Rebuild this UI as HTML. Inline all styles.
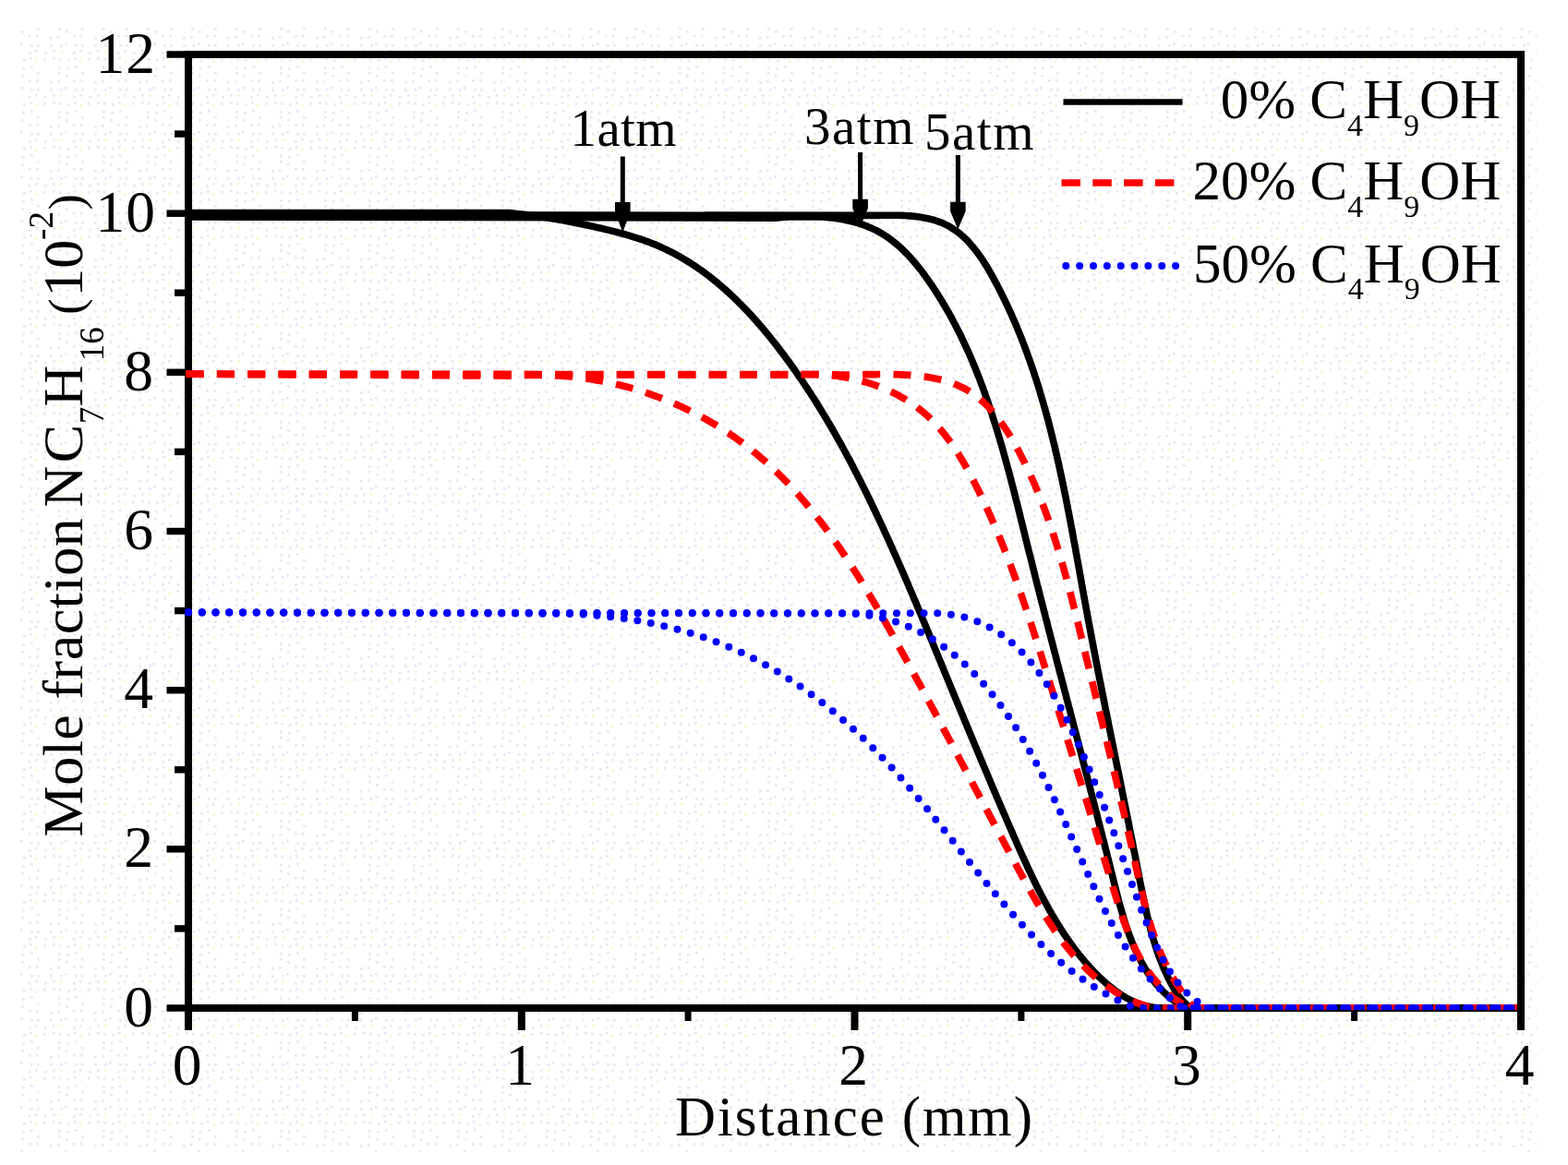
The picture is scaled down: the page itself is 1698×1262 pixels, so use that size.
<!DOCTYPE html>
<html><head><meta charset="utf-8"><title>Mole fraction NC7H16 vs Distance</title>
<style>html,body{margin:0;padding:0;background:#fff;}svg{display:block;}</style>
</head><body>
<svg width="1698" height="1262" viewBox="0 0 1698 1262"><rect x="0" y="0" width="1698" height="1262" fill="#ffffff"/>
<defs><pattern id="dots" x="22" y="30" width="48" height="48" patternUnits="userSpaceOnUse"><rect x="1" y="3" width="2.7" height="2.7" fill="#e8e8f3"/><rect x="18" y="0" width="2.7" height="2.7" fill="#e8e8f3"/><rect x="41" y="0" width="2.7" height="2.7" fill="#e8e8f3"/><rect x="9" y="8" width="2.7" height="2.7" fill="#e8e8f3"/><rect x="17" y="8" width="2.7" height="2.7" fill="#e8e8f3"/><rect x="32" y="10" width="2.7" height="2.7" fill="#e8e8f3"/><rect x="40" y="9" width="2.7" height="2.7" fill="#e8e8f3"/><rect x="0" y="16" width="2.7" height="2.7" fill="#e8e8f3"/><rect x="11" y="18" width="2.7" height="2.7" fill="#e8e8f3"/><rect x="18" y="18" width="2.7" height="2.7" fill="#e8e8f3"/><rect x="32" y="18" width="2.7" height="2.7" fill="#e8e8f3"/><rect x="43" y="18" width="2.7" height="2.7" fill="#e8e8f3"/><rect x="9" y="26" width="2.7" height="2.7" fill="#e8e8f3"/><rect x="16" y="24" width="2.7" height="2.7" fill="#e8e8f3"/><rect x="26" y="26" width="2.7" height="2.7" fill="#e8e8f3"/><rect x="35" y="24" width="2.7" height="2.7" fill="#e8e8f3"/><rect x="43" y="24" width="2.7" height="2.7" fill="#f1fbd8"/><rect x="3" y="34" width="2.7" height="2.7" fill="#e8e8f3"/><rect x="10" y="32" width="2.7" height="2.7" fill="#e8e8f3"/><rect x="16" y="35" width="2.7" height="2.7" fill="#f1fbd8"/><rect x="25" y="33" width="2.7" height="2.7" fill="#e8e8f3"/><rect x="35" y="32" width="2.7" height="2.7" fill="#e8e8f3"/><rect x="42" y="33" width="2.7" height="2.7" fill="#e8e8f3"/><rect x="2" y="43" width="2.7" height="2.7" fill="#e8e8f3"/><rect x="11" y="41" width="2.7" height="2.7" fill="#e8e8f3"/><rect x="41" y="42" width="2.7" height="2.7" fill="#e8e8f3"/></pattern></defs>
<rect x="22" y="30" width="1642" height="1218" fill="url(#dots)"/>
<rect x="204" y="59" width="1443" height="1033" fill="none" stroke="#000" stroke-width="8"/>
<line x1="180.5" y1="1092.0" x2="204" y2="1092.0" stroke="#000" stroke-width="7.5"/>
<line x1="189" y1="1005.9" x2="204" y2="1005.9" stroke="#000" stroke-width="7.5"/>
<line x1="180.5" y1="919.8" x2="204" y2="919.8" stroke="#000" stroke-width="7.5"/>
<line x1="189" y1="833.8" x2="204" y2="833.8" stroke="#000" stroke-width="7.5"/>
<line x1="180.5" y1="747.7" x2="204" y2="747.7" stroke="#000" stroke-width="7.5"/>
<line x1="189" y1="661.6" x2="204" y2="661.6" stroke="#000" stroke-width="7.5"/>
<line x1="180.5" y1="575.5" x2="204" y2="575.5" stroke="#000" stroke-width="7.5"/>
<line x1="189" y1="489.4" x2="204" y2="489.4" stroke="#000" stroke-width="7.5"/>
<line x1="180.5" y1="403.3" x2="204" y2="403.3" stroke="#000" stroke-width="7.5"/>
<line x1="189" y1="317.2" x2="204" y2="317.2" stroke="#000" stroke-width="7.5"/>
<line x1="180.5" y1="231.2" x2="204" y2="231.2" stroke="#000" stroke-width="7.5"/>
<line x1="189" y1="145.1" x2="204" y2="145.1" stroke="#000" stroke-width="7.5"/>
<line x1="180.5" y1="59.0" x2="204" y2="59.0" stroke="#000" stroke-width="7.5"/>
<line x1="204.0" y1="1092" x2="204.0" y2="1116" stroke="#000" stroke-width="8"/>
<line x1="384.4" y1="1092" x2="384.4" y2="1106" stroke="#000" stroke-width="7"/>
<line x1="564.8" y1="1092" x2="564.8" y2="1116" stroke="#000" stroke-width="8"/>
<line x1="745.1" y1="1092" x2="745.1" y2="1106" stroke="#000" stroke-width="7"/>
<line x1="925.5" y1="1092" x2="925.5" y2="1116" stroke="#000" stroke-width="8"/>
<line x1="1105.9" y1="1092" x2="1105.9" y2="1106" stroke="#000" stroke-width="7"/>
<line x1="1286.2" y1="1092" x2="1286.2" y2="1116" stroke="#000" stroke-width="8"/>
<line x1="1466.6" y1="1092" x2="1466.6" y2="1106" stroke="#000" stroke-width="7"/>
<line x1="1647.0" y1="1092" x2="1647.0" y2="1116" stroke="#000" stroke-width="8"/>
<clipPath id="pc"><rect x="200" y="40" width="1443" height="1054"/></clipPath><g clip-path="url(#pc)">
<path d="M204.0 230.5 L540.4 230.5 L542.8 230.5 L545.3 230.5 L547.7 230.5 L550.1 230.5 L552.5 230.7 L554.9 230.9 L557.3 231.2 L559.8 231.5 L562.2 231.7 L564.6 232.0 L567.1 232.3 L569.5 232.6 L571.9 232.9 L574.4 233.2 L576.8 233.6 L579.3 233.9 L581.7 234.2 L584.2 234.6 L586.6 235.0 L589.1 235.3 L591.5 235.7 L594.0 236.1 L596.4 236.5 L598.9 236.9 L601.3 237.3 L603.8 237.8 L606.3 238.2 L608.7 238.6 L611.2 239.1 L613.7 239.5 L616.1 240.0 L618.6 240.5 L621.1 241.0 L623.5 241.4 L626.0 241.9 L628.5 242.4 L630.9 243.0 L633.4 243.5 L635.9 244.0 L638.3 244.5 L640.8 245.1 L643.3 245.6 L645.8 246.2 L648.2 246.7 L650.7 247.3 L653.2 247.9 L655.6 248.5 L658.1 249.0 L660.6 249.6 L663.0 250.3 L665.5 250.9 L668.0 251.5 L670.4 252.2 L672.9 252.8 L675.3 253.5 L677.7 254.2 L680.2 254.9 L682.6 255.6 L685.0 256.3 L687.4 257.1 L689.8 257.8 L692.2 258.6 L694.6 259.4 L696.9 260.2 L699.3 261.1 L701.6 261.9 L704.0 262.8 L706.3 263.7 L708.6 264.6 L710.9 265.6 L713.2 266.6 L715.5 267.6 L717.7 268.6 L719.9 269.6 L722.2 270.7 L724.4 271.8 L726.6 272.9 L728.8 274.0 L731.0 275.2 L733.1 276.3 L735.3 277.5 L737.4 278.8 L739.5 280.0 L741.6 281.2 L743.7 282.5 L745.8 283.8 L747.9 285.1 L749.9 286.5 L752.0 287.8 L754.0 289.2 L756.1 290.6 L758.1 292.0 L760.1 293.4 L762.1 294.8 L764.0 296.3 L766.0 297.8 L768.0 299.3 L769.9 300.8 L771.8 302.3 L773.7 303.9 L775.7 305.4 L777.6 307.0 L779.4 308.6 L781.3 310.2 L783.2 311.8 L785.0 313.4 L786.9 315.1 L788.7 316.7 L790.5 318.4 L792.3 320.1 L794.1 321.8 L795.9 323.5 L797.7 325.3 L799.5 327.0 L801.2 328.8 L803.0 330.5 L804.7 332.3 L806.5 334.1 L808.2 335.9 L809.9 337.7 L811.6 339.5 L813.3 341.4 L815.0 343.2 L816.6 345.1 L818.3 346.9 L820.0 348.8 L821.6 350.7 L823.2 352.6 L824.9 354.5 L826.5 356.4 L828.1 358.3 L829.7 360.2 L831.3 362.2 L832.9 364.1 L834.4 366.0 L836.0 368.0 L837.6 370.0 L839.1 371.9 L840.7 373.9 L842.2 375.9 L843.7 377.9 L845.2 379.9 L846.8 381.9 L848.3 383.9 L849.8 385.9 L851.2 387.9 L852.7 389.9 L854.2 391.9 L855.7 393.9 L857.1 396.0 L858.6 398.0 L860.0 400.0 L861.5 402.1 L862.9 404.1 L864.3 406.2 L865.7 408.2 L867.1 410.3 L868.6 412.4 L869.9 414.4 L871.3 416.5 L872.7 418.6 L874.1 420.7 L875.5 422.8 L876.8 424.8 L878.2 426.9 L879.5 429.0 L880.9 431.1 L882.2 433.2 L883.6 435.3 L884.9 437.5 L886.2 439.6 L887.5 441.7 L888.8 443.8 L890.1 445.9 L891.4 448.1 L892.7 450.2 L894.0 452.3 L895.3 454.5 L896.5 456.6 L897.8 458.8 L899.1 460.9 L900.3 463.1 L901.6 465.2 L902.8 467.4 L904.1 469.5 L905.3 471.7 L906.5 473.9 L907.7 476.1 L909.0 478.2 L910.2 480.4 L911.4 482.6 L912.6 484.8 L913.8 487.0 L915.0 489.2 L916.2 491.3 L917.3 493.5 L918.5 495.7 L919.7 497.9 L920.9 500.1 L922.0 502.3 L923.2 504.6 L924.3 506.8 L925.5 509.0 L926.6 511.2 L927.8 513.4 L928.9 515.6 L930.1 517.9 L931.2 520.1 L932.3 522.3 L933.4 524.6 L934.5 526.8 L935.7 529.0 L936.8 531.3 L937.9 533.5 L939.0 535.7 L940.1 538.0 L941.2 540.2 L942.3 542.5 L943.4 544.7 L944.4 547.0 L945.5 549.2 L946.6 551.5 L947.7 553.7 L948.7 556.0 L949.8 558.3 L950.9 560.5 L951.9 562.8 L953.0 565.1 L954.0 567.3 L955.1 569.6 L956.2 571.9 L957.2 574.1 L958.2 576.4 L959.3 578.7 L960.3 581.0 L961.4 583.2 L962.4 585.5 L963.4 587.8 L964.4 590.1 L965.5 592.4 L966.5 594.6 L967.5 596.9 L968.5 599.2 L969.6 601.5 L970.6 603.8 L971.6 606.1 L972.6 608.4 L973.6 610.7 L974.6 612.9 L975.6 615.2 L976.6 617.5 L977.6 619.8 L978.6 622.1 L979.6 624.4 L980.6 626.7 L981.6 629.0 L982.6 631.3 L983.6 633.6 L984.5 635.9 L985.5 638.2 L986.5 640.5 L987.5 642.8 L988.5 645.1 L989.4 647.4 L990.4 649.7 L991.4 652.0 L992.4 654.3 L993.3 656.6 L994.3 658.9 L995.3 661.2 L996.2 663.5 L997.2 665.8 L998.2 668.1 L999.1 670.4 L1000.1 672.7 L1001.1 675.0 L1002.0 677.3 L1003.0 679.6 L1003.9 681.9 L1004.9 684.2 L1005.9 686.5 L1006.8 688.8 L1007.8 691.2 L1008.7 693.5 L1009.7 695.8 L1010.6 698.1 L1011.6 700.4 L1012.5 702.7 L1013.5 705.0 L1014.4 707.3 L1015.4 709.6 L1016.3 711.9 L1017.3 714.2 L1018.2 716.4 L1019.2 718.7 L1020.1 721.0 L1021.1 723.3 L1022.0 725.6 L1022.9 727.9 L1023.9 730.2 L1024.8 732.5 L1025.8 734.8 L1026.7 737.1 L1027.7 739.4 L1028.6 741.7 L1029.6 744.0 L1030.5 746.2 L1031.5 748.5 L1032.4 750.8 L1033.3 753.1 L1034.3 755.4 L1035.2 757.7 L1036.2 760.0 L1037.1 762.2 L1038.1 764.5 L1039.0 766.8 L1040.0 769.1 L1040.9 771.4 L1041.9 773.7 L1042.8 775.9 L1043.7 778.2 L1044.7 780.5 L1045.6 782.8 L1046.6 785.1 L1047.5 787.4 L1048.5 789.6 L1049.4 791.9 L1050.4 794.2 L1051.3 796.5 L1052.3 798.8 L1053.2 801.0 L1054.2 803.3 L1055.1 805.6 L1056.1 807.9 L1057.1 810.2 L1058.0 812.5 L1059.0 814.7 L1059.9 817.0 L1060.9 819.3 L1061.8 821.6 L1062.8 823.9 L1063.8 826.2 L1064.7 828.5 L1065.7 830.7 L1066.7 833.0 L1067.6 835.3 L1068.6 837.6 L1069.6 839.9 L1070.5 842.2 L1071.5 844.5 L1072.5 846.8 L1073.4 849.1 L1074.4 851.4 L1075.4 853.7 L1076.4 856.0 L1077.3 858.3 L1078.3 860.6 L1079.3 862.9 L1080.3 865.2 L1081.3 867.5 L1082.3 869.8 L1083.2 872.1 L1084.2 874.4 L1085.2 876.7 L1086.2 879.0 L1087.2 881.3 L1088.2 883.6 L1089.2 885.9 L1090.2 888.2 L1091.2 890.5 L1092.2 892.9 L1093.2 895.2 L1094.2 897.5 L1095.2 899.8 L1096.2 902.1 L1097.2 904.5 L1098.3 906.8 L1099.3 909.1 L1100.3 911.4 L1101.3 913.8 L1102.3 916.1 L1103.4 918.4 L1104.4 920.7 L1105.4 923.1 L1106.5 925.4 L1107.5 927.7 L1108.6 930.0 L1109.6 932.3 L1110.7 934.7 L1111.8 937.0 L1112.8 939.3 L1113.9 941.6 L1115.0 943.9 L1116.1 946.2 L1117.2 948.5 L1118.3 950.8 L1119.4 953.1 L1120.5 955.3 L1121.6 957.6 L1122.7 959.9 L1123.9 962.2 L1125.0 964.4 L1126.2 966.7 L1127.3 968.9 L1128.5 971.2 L1129.7 973.4 L1130.9 975.6 L1132.1 977.8 L1133.3 980.1 L1134.5 982.3 L1135.7 984.5 L1136.9 986.7 L1138.2 988.8 L1139.4 991.0 L1140.7 993.2 L1142.0 995.3 L1143.3 997.5 L1144.6 999.6 L1145.9 1001.7 L1147.2 1003.8 L1148.5 1005.9 L1149.9 1008.0 L1151.2 1010.1 L1152.6 1012.2 L1154.0 1014.2 L1155.4 1016.3 L1156.8 1018.3 L1158.2 1020.3 L1159.6 1022.3 L1161.1 1024.3 L1162.5 1026.3 L1164.0 1028.3 L1165.5 1030.2 L1167.0 1032.2 L1168.5 1034.1 L1170.1 1036.0 L1171.6 1037.9 L1173.2 1039.8 L1174.8 1041.7 L1176.4 1043.5 L1178.0 1045.3 L1179.6 1047.2 L1181.3 1049.0 L1182.9 1050.7 L1184.6 1052.5 L1186.3 1054.3 L1188.0 1056.0 L1189.7 1057.7 L1191.5 1059.4 L1193.3 1061.0 L1195.1 1062.7 L1196.9 1064.3 L1198.7 1065.9 L1200.6 1067.4 L1202.5 1068.9 L1204.4 1070.4 L1206.3 1072.0 L1208.3 1073.5 L1210.3 1074.9 L1212.3 1076.3 L1214.3 1077.7 L1216.4 1079.0 L1218.5 1080.3 L1220.6 1081.5 L1222.8 1082.7 L1225.0 1083.8 L1227.2 1084.8 L1229.5 1085.8 L1231.8 1086.7 L1234.1 1087.6 L1236.5 1088.4 L1238.9 1089.1 L1241.4 1089.8 L1243.8 1090.3 L1246.4 1090.8 L1248.9 1091.3 L1251.5 1091.6 L1254.2 1091.9 L1256.9 1092.0 L1259.6 1092.0 L1262.4 1092.0 L1265.2 1092.0 L1647.0 1092.0" fill="none" stroke="#000" stroke-width="7.6" stroke-linejoin="round" stroke-linecap="butt"/>
<path d="M204.0 235.0 L839.6 236.1 L842.1 235.9 L844.5 235.6 L847.0 235.4 L849.5 235.3 L852.1 235.1 L854.6 235.0 L857.1 235.0 L859.7 235.0 L862.2 235.0 L864.8 235.0 L867.4 235.0 L869.9 235.0 L872.5 235.0 L875.1 235.0 L877.7 235.0 L880.2 235.0 L882.8 235.0 L885.4 235.0 L888.0 235.0 L890.5 235.0 L893.1 235.2 L895.7 235.4 L898.2 235.7 L900.8 236.0 L903.3 236.3 L905.8 236.6 L908.4 237.0 L910.9 237.4 L913.3 237.9 L915.8 238.4 L918.3 238.9 L920.7 239.5 L923.2 240.1 L925.6 240.7 L928.0 241.4 L930.3 242.1 L932.7 242.9 L935.0 243.7 L937.3 244.5 L939.6 245.4 L941.9 246.4 L944.1 247.3 L946.3 248.4 L948.5 249.4 L950.7 250.6 L952.8 251.7 L954.9 253.0 L956.9 254.2 L959.0 255.5 L961.0 256.9 L962.9 258.3 L964.9 259.7 L966.8 261.2 L968.7 262.7 L970.6 264.2 L972.4 265.8 L974.3 267.4 L976.1 269.1 L977.8 270.8 L979.6 272.5 L981.3 274.2 L983.0 276.0 L984.7 277.8 L986.4 279.6 L988.0 281.5 L989.6 283.4 L991.3 285.3 L992.8 287.2 L994.4 289.1 L996.0 291.1 L997.5 293.0 L999.0 295.0 L1000.5 297.0 L1002.0 299.1 L1003.4 301.1 L1004.9 303.1 L1006.3 305.2 L1007.7 307.3 L1009.2 309.3 L1010.5 311.4 L1011.9 313.5 L1013.3 315.6 L1014.6 317.7 L1016.0 319.8 L1017.3 321.9 L1018.6 324.0 L1019.9 326.1 L1021.2 328.3 L1022.5 330.4 L1023.7 332.6 L1025.0 334.7 L1026.2 336.9 L1027.5 339.0 L1028.7 341.2 L1029.9 343.4 L1031.1 345.6 L1032.2 347.8 L1033.4 350.0 L1034.6 352.2 L1035.7 354.4 L1036.8 356.6 L1038.0 358.8 L1039.1 361.0 L1040.2 363.2 L1041.3 365.5 L1042.3 367.7 L1043.4 370.0 L1044.5 372.2 L1045.5 374.5 L1046.5 376.7 L1047.6 379.0 L1048.6 381.3 L1049.6 383.5 L1050.6 385.8 L1051.6 388.1 L1052.6 390.4 L1053.5 392.7 L1054.5 395.0 L1055.4 397.3 L1056.4 399.6 L1057.3 401.9 L1058.2 404.2 L1059.1 406.5 L1060.1 408.8 L1061.0 411.2 L1061.8 413.5 L1062.7 415.8 L1063.6 418.2 L1064.5 420.5 L1065.3 422.9 L1066.2 425.2 L1067.0 427.6 L1067.8 429.9 L1068.7 432.3 L1069.5 434.7 L1070.3 437.0 L1071.1 439.4 L1071.9 441.8 L1072.7 444.1 L1073.5 446.5 L1074.3 448.9 L1075.0 451.3 L1075.8 453.7 L1076.6 456.1 L1077.3 458.5 L1078.1 460.8 L1078.8 463.2 L1079.6 465.6 L1080.3 468.0 L1081.0 470.5 L1081.7 472.9 L1082.5 475.3 L1083.2 477.7 L1083.9 480.1 L1084.6 482.5 L1085.3 484.9 L1086.0 487.3 L1086.6 489.8 L1087.3 492.2 L1088.0 494.6 L1088.7 497.0 L1089.3 499.5 L1090.0 501.9 L1090.7 504.3 L1091.3 506.7 L1092.0 509.2 L1092.6 511.6 L1093.3 514.0 L1093.9 516.5 L1094.6 518.9 L1095.2 521.4 L1095.8 523.8 L1096.5 526.2 L1097.1 528.7 L1097.7 531.1 L1098.4 533.5 L1099.0 536.0 L1099.6 538.4 L1100.2 540.9 L1100.8 543.3 L1101.5 545.7 L1102.1 548.2 L1102.7 550.6 L1103.3 553.1 L1103.9 555.5 L1104.5 557.9 L1105.1 560.4 L1105.7 562.8 L1106.3 565.3 L1106.9 567.7 L1107.5 570.1 L1108.1 572.6 L1108.7 575.0 L1109.3 577.4 L1109.9 579.9 L1110.5 582.3 L1111.1 584.8 L1111.7 587.2 L1112.3 589.6 L1112.9 592.0 L1113.5 594.5 L1114.1 596.9 L1114.7 599.3 L1115.4 601.7 L1116.0 604.2 L1116.6 606.6 L1117.2 609.0 L1117.8 611.4 L1118.4 613.9 L1119.0 616.3 L1119.6 618.7 L1120.2 621.1 L1120.8 623.5 L1121.4 625.9 L1122.0 628.3 L1122.6 630.8 L1123.2 633.2 L1123.9 635.6 L1124.5 638.0 L1125.1 640.4 L1125.7 642.8 L1126.3 645.2 L1126.9 647.6 L1127.5 650.0 L1128.1 652.4 L1128.8 654.8 L1129.4 657.2 L1130.0 659.6 L1130.6 662.0 L1131.2 664.4 L1131.8 666.8 L1132.4 669.2 L1133.1 671.6 L1133.7 674.0 L1134.3 676.4 L1134.9 678.8 L1135.5 681.2 L1136.1 683.6 L1136.8 686.0 L1137.4 688.4 L1138.0 690.8 L1138.6 693.2 L1139.2 695.6 L1139.9 698.0 L1140.5 700.4 L1141.1 702.8 L1141.7 705.2 L1142.3 707.5 L1143.0 709.9 L1143.6 712.3 L1144.2 714.7 L1144.8 717.1 L1145.4 719.5 L1146.1 721.9 L1146.7 724.3 L1147.3 726.7 L1147.9 729.1 L1148.6 731.5 L1149.2 733.9 L1149.8 736.2 L1150.4 738.6 L1151.1 741.0 L1151.7 743.4 L1152.3 745.8 L1152.9 748.2 L1153.6 750.6 L1154.2 753.0 L1154.8 755.4 L1155.4 757.8 L1156.1 760.2 L1156.7 762.6 L1157.3 765.0 L1157.9 767.4 L1158.6 769.7 L1159.2 772.1 L1159.8 774.5 L1160.4 776.9 L1161.1 779.3 L1161.7 781.7 L1162.3 784.1 L1162.9 786.5 L1163.6 788.9 L1164.2 791.3 L1164.8 793.7 L1165.4 796.1 L1166.1 798.5 L1166.7 800.9 L1167.3 803.3 L1168.0 805.7 L1168.6 808.1 L1169.2 810.5 L1169.8 812.9 L1170.5 815.3 L1171.1 817.7 L1171.7 820.1 L1172.3 822.5 L1173.0 825.0 L1173.6 827.4 L1174.2 829.8 L1174.8 832.2 L1175.5 834.6 L1176.1 837.0 L1176.7 839.4 L1177.4 841.8 L1178.0 844.3 L1178.6 846.7 L1179.2 849.1 L1179.9 851.5 L1180.5 853.9 L1181.1 856.4 L1181.7 858.8 L1182.4 861.2 L1183.0 863.6 L1183.6 866.0 L1184.2 868.5 L1184.9 870.9 L1185.5 873.3 L1186.1 875.8 L1186.7 878.2 L1187.4 880.6 L1188.0 883.1 L1188.6 885.5 L1189.2 887.9 L1189.9 890.4 L1190.5 892.8 L1191.1 895.3 L1191.7 897.7 L1192.4 900.2 L1193.0 902.6 L1193.6 905.1 L1194.2 907.5 L1194.9 910.0 L1195.5 912.4 L1196.1 914.9 L1196.7 917.3 L1197.3 919.8 L1198.0 922.2 L1198.6 924.7 L1199.2 927.2 L1199.8 929.6 L1200.5 932.1 L1201.1 934.6 L1201.7 937.0 L1202.3 939.5 L1202.9 942.0 L1203.6 944.5 L1204.2 947.0 L1204.8 949.4 L1205.4 951.9 L1206.0 954.4 L1206.6 956.9 L1207.3 959.4 L1207.9 961.9 L1208.5 964.3 L1209.2 966.8 L1209.8 969.3 L1210.4 971.8 L1211.1 974.3 L1211.7 976.7 L1212.4 979.2 L1213.1 981.7 L1213.8 984.1 L1214.5 986.6 L1215.2 989.0 L1215.9 991.4 L1216.6 993.9 L1217.3 996.3 L1218.1 998.7 L1218.8 1001.1 L1219.6 1003.5 L1220.4 1005.8 L1221.2 1008.2 L1222.1 1010.5 L1222.9 1012.9 L1223.8 1015.2 L1224.7 1017.5 L1225.6 1019.8 L1226.5 1022.1 L1227.4 1024.4 L1228.4 1026.6 L1229.4 1028.9 L1230.4 1031.1 L1231.4 1033.3 L1232.5 1035.4 L1233.6 1037.6 L1234.7 1039.7 L1235.8 1041.9 L1237.0 1044.0 L1238.2 1046.0 L1239.4 1048.1 L1240.6 1050.1 L1241.9 1052.1 L1243.2 1054.1 L1244.6 1056.1 L1246.0 1058.0 L1247.4 1059.9 L1248.8 1061.8 L1250.3 1063.7 L1251.8 1065.5 L1253.3 1067.3 L1254.9 1069.0 L1256.6 1070.8 L1258.2 1072.6 L1259.9 1074.4 L1261.7 1076.1 L1263.5 1077.7 L1265.3 1079.3 L1267.2 1080.9 L1269.2 1082.4 L1271.2 1083.8 L1273.2 1085.2 L1275.3 1086.5 L1277.4 1087.7 L1279.6 1088.9 L1281.9 1089.9 L1284.2 1090.9 L1286.6 1091.9 L1289.0 1092.0 L1291.5 1092.0 L1294.0 1092.0 L1296.7 1092.0 L1299.3 1092.0 L1647.0 1092.0" fill="none" stroke="#000" stroke-width="7.6" stroke-linejoin="round" stroke-linecap="butt"/>
<path d="M204.0 232.5 L949.5 233.4 L951.9 233.4 L954.2 233.3 L956.7 233.3 L959.1 233.2 L961.6 233.2 L964.1 233.2 L966.7 233.2 L969.3 233.2 L971.9 233.2 L974.5 233.3 L977.1 233.4 L979.8 233.5 L982.4 233.7 L985.1 233.9 L987.7 234.1 L990.4 234.4 L993.0 234.7 L995.6 235.0 L998.2 235.4 L1000.8 235.9 L1003.4 236.4 L1005.9 237.0 L1008.4 237.6 L1010.9 238.2 L1013.3 239.0 L1015.7 239.8 L1018.0 240.6 L1020.3 241.6 L1022.6 242.6 L1024.7 243.6 L1026.9 244.7 L1029.0 245.9 L1031.0 247.2 L1033.0 248.5 L1035.0 249.9 L1036.9 251.3 L1038.8 252.7 L1040.7 254.3 L1042.5 255.8 L1044.2 257.5 L1046.0 259.1 L1047.7 260.8 L1049.3 262.6 L1050.9 264.4 L1052.5 266.2 L1054.1 268.1 L1055.6 270.0 L1057.1 271.9 L1058.6 273.9 L1060.1 275.8 L1061.5 277.9 L1062.9 279.9 L1064.3 282.0 L1065.6 284.1 L1067.0 286.2 L1068.3 288.3 L1069.6 290.5 L1070.8 292.6 L1072.1 294.8 L1073.3 297.0 L1074.6 299.2 L1075.8 301.4 L1077.0 303.6 L1078.2 305.9 L1079.4 308.1 L1080.5 310.3 L1081.7 312.5 L1082.8 314.8 L1084.0 317.0 L1085.1 319.3 L1086.2 321.5 L1087.3 323.8 L1088.4 326.0 L1089.5 328.3 L1090.6 330.5 L1091.6 332.8 L1092.7 335.1 L1093.7 337.4 L1094.8 339.6 L1095.8 341.9 L1096.8 344.2 L1097.8 346.5 L1098.8 348.8 L1099.8 351.1 L1100.8 353.4 L1101.7 355.7 L1102.7 358.0 L1103.6 360.3 L1104.6 362.6 L1105.5 364.9 L1106.4 367.2 L1107.3 369.6 L1108.2 371.9 L1109.1 374.2 L1110.0 376.5 L1110.9 378.9 L1111.7 381.2 L1112.6 383.6 L1113.4 385.9 L1114.3 388.3 L1115.1 390.6 L1115.9 393.0 L1116.8 395.3 L1117.6 397.7 L1118.4 400.0 L1119.2 402.4 L1120.0 404.8 L1120.7 407.1 L1121.5 409.5 L1122.3 411.9 L1123.0 414.3 L1123.8 416.6 L1124.5 419.0 L1125.3 421.4 L1126.0 423.8 L1126.7 426.2 L1127.4 428.6 L1128.1 431.0 L1128.8 433.4 L1129.5 435.8 L1130.2 438.2 L1130.9 440.6 L1131.6 443.0 L1132.2 445.4 L1132.9 447.8 L1133.6 450.2 L1134.2 452.6 L1134.9 455.0 L1135.5 457.4 L1136.1 459.9 L1136.8 462.3 L1137.4 464.7 L1138.0 467.1 L1138.6 469.6 L1139.2 472.0 L1139.8 474.4 L1140.4 476.8 L1141.0 479.3 L1141.6 481.7 L1142.2 484.1 L1142.8 486.6 L1143.3 489.0 L1143.9 491.5 L1144.5 493.9 L1145.0 496.4 L1145.6 498.8 L1146.1 501.2 L1146.7 503.7 L1147.2 506.1 L1147.7 508.6 L1148.3 511.0 L1148.8 513.5 L1149.3 515.9 L1149.9 518.4 L1150.4 520.9 L1150.9 523.3 L1151.4 525.8 L1151.9 528.2 L1152.4 530.7 L1152.9 533.1 L1153.4 535.6 L1153.9 538.1 L1154.4 540.5 L1154.9 543.0 L1155.4 545.5 L1155.9 547.9 L1156.3 550.4 L1156.8 552.9 L1157.3 555.3 L1157.8 557.8 L1158.2 560.3 L1158.7 562.7 L1159.2 565.2 L1159.6 567.7 L1160.1 570.1 L1160.6 572.6 L1161.0 575.1 L1161.5 577.5 L1161.9 580.0 L1162.4 582.5 L1162.8 584.9 L1163.3 587.4 L1163.8 589.9 L1164.2 592.4 L1164.7 594.8 L1165.1 597.3 L1165.5 599.8 L1166.0 602.2 L1166.4 604.7 L1166.9 607.2 L1167.3 609.6 L1167.8 612.1 L1168.2 614.6 L1168.7 617.1 L1169.1 619.5 L1169.5 622.0 L1170.0 624.5 L1170.4 626.9 L1170.9 629.4 L1171.3 631.9 L1171.7 634.3 L1172.2 636.8 L1172.6 639.3 L1173.1 641.7 L1173.5 644.2 L1174.0 646.6 L1174.4 649.1 L1174.9 651.6 L1175.3 654.0 L1175.8 656.5 L1176.2 658.9 L1176.7 661.4 L1177.1 663.8 L1177.6 666.3 L1178.0 668.8 L1178.5 671.2 L1178.9 673.7 L1179.4 676.1 L1179.8 678.6 L1180.3 681.0 L1180.8 683.5 L1181.2 685.9 L1181.7 688.4 L1182.2 690.8 L1182.6 693.3 L1183.1 695.7 L1183.5 698.1 L1184.0 700.6 L1184.5 703.0 L1185.0 705.5 L1185.4 707.9 L1185.9 710.4 L1186.4 712.8 L1186.8 715.2 L1187.3 717.7 L1187.8 720.1 L1188.3 722.6 L1188.7 725.0 L1189.2 727.4 L1189.7 729.9 L1190.2 732.3 L1190.6 734.8 L1191.1 737.2 L1191.6 739.6 L1192.1 742.1 L1192.6 744.5 L1193.1 746.9 L1193.5 749.4 L1194.0 751.8 L1194.5 754.3 L1195.0 756.7 L1195.5 759.1 L1196.0 761.6 L1196.4 764.0 L1196.9 766.4 L1197.4 768.9 L1197.9 771.3 L1198.4 773.7 L1198.9 776.2 L1199.4 778.6 L1199.9 781.0 L1200.3 783.5 L1200.8 785.9 L1201.3 788.3 L1201.8 790.8 L1202.3 793.2 L1202.8 795.7 L1203.3 798.1 L1203.8 800.5 L1204.3 803.0 L1204.8 805.4 L1205.3 807.8 L1205.8 810.3 L1206.3 812.7 L1206.7 815.2 L1207.2 817.6 L1207.7 820.0 L1208.2 822.5 L1208.7 824.9 L1209.2 827.4 L1209.7 829.8 L1210.2 832.2 L1210.7 834.7 L1211.2 837.1 L1211.7 839.6 L1212.2 842.0 L1212.7 844.5 L1213.2 846.9 L1213.7 849.3 L1214.2 851.8 L1214.7 854.2 L1215.1 856.7 L1215.6 859.1 L1216.1 861.6 L1216.6 864.0 L1217.1 866.5 L1217.6 868.9 L1218.1 871.4 L1218.6 873.8 L1219.1 876.3 L1219.6 878.8 L1220.1 881.2 L1220.6 883.7 L1221.1 886.1 L1221.6 888.6 L1222.1 891.0 L1222.5 893.5 L1223.0 896.0 L1223.5 898.4 L1224.0 900.9 L1224.5 903.4 L1225.0 905.8 L1225.5 908.3 L1226.0 910.8 L1226.5 913.2 L1227.0 915.7 L1227.4 918.2 L1227.9 920.7 L1228.4 923.1 L1228.9 925.6 L1229.4 928.1 L1229.9 930.6 L1230.4 933.0 L1230.8 935.5 L1231.3 938.0 L1231.8 940.5 L1232.3 943.0 L1232.8 945.5 L1233.3 948.0 L1233.7 950.4 L1234.2 952.9 L1234.7 955.4 L1235.2 957.9 L1235.7 960.4 L1236.2 962.9 L1236.7 965.4 L1237.2 967.9 L1237.7 970.3 L1238.2 972.8 L1238.7 975.3 L1239.2 977.8 L1239.7 980.3 L1240.3 982.7 L1240.8 985.2 L1241.4 987.7 L1241.9 990.1 L1242.5 992.6 L1243.1 995.0 L1243.7 997.5 L1244.3 999.9 L1244.9 1002.3 L1245.5 1004.8 L1246.1 1007.2 L1246.8 1009.6 L1247.5 1012.0 L1248.1 1014.4 L1248.8 1016.8 L1249.5 1019.2 L1250.3 1021.5 L1251.0 1023.9 L1251.8 1026.2 L1252.5 1028.6 L1253.3 1030.9 L1254.1 1033.2 L1255.0 1035.6 L1255.8 1037.9 L1256.7 1040.1 L1257.6 1042.4 L1258.5 1044.7 L1259.4 1046.9 L1260.4 1049.2 L1261.3 1051.4 L1262.4 1053.6 L1263.4 1055.8 L1264.4 1058.0 L1265.5 1060.2 L1266.6 1062.3 L1267.7 1064.5 L1268.9 1066.6 L1270.1 1068.7 L1271.3 1070.8 L1272.6 1073.0 L1273.9 1075.1 L1275.3 1077.2 L1276.8 1079.2 L1278.3 1081.2 L1279.9 1083.1 L1281.5 1085.0 L1283.2 1086.7 L1285.1 1088.4 L1286.9 1090.0 L1288.9 1091.6 L1291.0 1092.0 L1293.2 1092.0 L1647.0 1092.0" fill="none" stroke="#000" stroke-width="7.6" stroke-linejoin="round" stroke-linecap="butt"/>
<path d="M201.6 405.2 L559.5 407.1 L562.0 406.9 L564.5 406.8 L567.1 406.6 L569.6 406.5 L572.2 406.4 L574.7 406.4 L577.3 406.3 L579.8 406.3 L582.4 406.3 L584.9 406.3 L587.4 406.3 L590.0 406.3 L592.5 406.4 L595.0 406.5 L597.6 406.5 L600.1 406.7 L602.6 406.8 L605.1 406.9 L607.7 407.1 L610.2 407.3 L612.7 407.5 L615.2 407.7 L617.7 407.9 L620.2 408.2 L622.7 408.4 L625.2 408.7 L627.7 409.0 L630.2 409.3 L632.7 409.7 L635.2 410.0 L637.7 410.4 L640.2 410.8 L642.7 411.2 L645.1 411.6 L647.6 412.1 L650.1 412.5 L652.5 413.0 L655.0 413.5 L657.5 414.0 L659.9 414.5 L662.4 415.0 L664.8 415.6 L667.2 416.2 L669.7 416.7 L672.1 417.3 L674.5 418.0 L676.9 418.6 L679.4 419.2 L681.8 419.9 L684.2 420.6 L686.6 421.3 L689.0 422.0 L691.4 422.7 L693.7 423.5 L696.1 424.2 L698.5 425.0 L700.8 425.8 L703.2 426.6 L705.6 427.5 L707.9 428.3 L710.3 429.1 L712.6 430.0 L714.9 430.9 L717.2 431.8 L719.6 432.7 L721.9 433.7 L724.2 434.6 L726.5 435.6 L728.8 436.5 L731.0 437.5 L733.3 438.5 L735.6 439.6 L737.8 440.6 L740.1 441.6 L742.3 442.7 L744.6 443.8 L746.8 444.9 L749.0 446.0 L751.2 447.1 L753.5 448.2 L755.7 449.4 L757.8 450.6 L760.0 451.7 L762.2 452.9 L764.4 454.1 L766.5 455.4 L768.7 456.6 L770.8 457.9 L772.9 459.1 L775.1 460.4 L777.2 461.7 L779.3 463.0 L781.4 464.3 L783.5 465.6 L785.5 467.0 L787.6 468.4 L789.7 469.7 L791.7 471.1 L793.8 472.5 L795.8 473.9 L797.8 475.4 L799.8 476.8 L801.8 478.2 L803.8 479.7 L805.8 481.2 L807.8 482.7 L809.7 484.2 L811.7 485.7 L813.6 487.2 L815.5 488.8 L817.5 490.3 L819.4 491.9 L821.3 493.5 L823.1 495.1 L825.0 496.7 L826.9 498.3 L828.7 499.9 L830.6 501.6 L832.4 503.2 L834.2 504.9 L836.0 506.6 L837.8 508.3 L839.6 510.0 L841.4 511.7 L843.2 513.4 L844.9 515.1 L846.7 516.9 L848.4 518.6 L850.1 520.4 L851.9 522.2 L853.6 524.0 L855.3 525.8 L857.0 527.6 L858.6 529.4 L860.3 531.2 L862.0 533.1 L863.6 534.9 L865.3 536.8 L866.9 538.6 L868.5 540.5 L870.2 542.4 L871.8 544.3 L873.4 546.2 L875.0 548.1 L876.6 550.0 L878.1 551.9 L879.7 553.9 L881.3 555.8 L882.8 557.8 L884.4 559.7 L885.9 561.7 L887.4 563.7 L889.0 565.6 L890.5 567.6 L892.0 569.6 L893.5 571.6 L895.0 573.6 L896.5 575.7 L898.0 577.7 L899.4 579.7 L900.9 581.8 L902.3 583.8 L903.8 585.9 L905.2 587.9 L906.7 590.0 L908.1 592.0 L909.5 594.1 L911.0 596.2 L912.4 598.3 L913.8 600.4 L915.2 602.5 L916.6 604.6 L918.0 606.7 L919.3 608.8 L920.7 610.9 L922.1 613.0 L923.5 615.1 L924.8 617.3 L926.2 619.4 L927.5 621.5 L928.9 623.7 L930.2 625.8 L931.5 628.0 L932.9 630.1 L934.2 632.3 L935.5 634.4 L936.8 636.6 L938.1 638.8 L939.4 640.9 L940.8 643.1 L942.0 645.3 L943.3 647.5 L944.6 649.6 L945.9 651.8 L947.2 654.0 L948.5 656.2 L949.7 658.4 L951.0 660.6 L952.3 662.7 L953.5 664.9 L954.8 667.1 L956.1 669.3 L957.3 671.5 L958.6 673.7 L959.8 675.9 L961.0 678.1 L962.3 680.3 L963.5 682.5 L964.7 684.7 L966.0 686.9 L967.2 689.1 L968.4 691.3 L969.7 693.5 L970.9 695.7 L972.1 697.9 L973.3 700.1 L974.5 702.3 L975.7 704.5 L976.9 706.7 L978.2 708.9 L979.4 711.1 L980.6 713.3 L981.8 715.5 L983.0 717.7 L984.2 719.8 L985.4 722.0 L986.6 724.2 L987.8 726.4 L988.9 728.6 L990.1 730.8 L991.3 733.0 L992.5 735.1 L993.7 737.3 L994.9 739.5 L996.1 741.7 L997.3 743.9 L998.4 746.1 L999.6 748.2 L1000.8 750.4 L1002.0 752.6 L1003.2 754.8 L1004.3 757.0 L1005.5 759.1 L1006.7 761.3 L1007.8 763.5 L1009.0 765.7 L1010.2 767.9 L1011.4 770.0 L1012.5 772.2 L1013.7 774.4 L1014.9 776.6 L1016.0 778.7 L1017.2 780.9 L1018.4 783.1 L1019.5 785.3 L1020.7 787.4 L1021.8 789.6 L1023.0 791.8 L1024.2 794.0 L1025.3 796.2 L1026.5 798.3 L1027.7 800.5 L1028.8 802.7 L1030.0 804.9 L1031.1 807.0 L1032.3 809.2 L1033.5 811.4 L1034.6 813.6 L1035.8 815.8 L1036.9 817.9 L1038.1 820.1 L1039.2 822.3 L1040.4 824.5 L1041.6 826.7 L1042.7 828.8 L1043.9 831.0 L1045.0 833.2 L1046.2 835.4 L1047.4 837.6 L1048.5 839.7 L1049.7 841.9 L1050.8 844.1 L1052.0 846.3 L1053.2 848.5 L1054.3 850.7 L1055.5 852.9 L1056.6 855.1 L1057.8 857.2 L1059.0 859.4 L1060.1 861.6 L1061.3 863.8 L1062.5 866.0 L1063.6 868.2 L1064.8 870.4 L1066.0 872.6 L1067.1 874.8 L1068.3 877.0 L1069.5 879.2 L1070.6 881.4 L1071.8 883.6 L1073.0 885.8 L1074.2 888.0 L1075.3 890.2 L1076.5 892.4 L1077.7 894.6 L1078.9 896.8 L1080.0 899.0 L1081.2 901.3 L1082.4 903.5 L1083.6 905.7 L1084.8 907.9 L1086.0 910.1 L1087.1 912.3 L1088.3 914.6 L1089.5 916.8 L1090.7 919.0 L1091.9 921.2 L1093.1 923.5 L1094.3 925.7 L1095.5 927.9 L1096.7 930.2 L1097.9 932.4 L1099.1 934.6 L1100.3 936.9 L1101.5 939.1 L1102.7 941.3 L1103.9 943.6 L1105.2 945.8 L1106.4 948.1 L1107.6 950.3 L1108.8 952.5 L1110.1 954.8 L1111.3 957.0 L1112.5 959.3 L1113.8 961.5 L1115.0 963.7 L1116.3 965.9 L1117.5 968.2 L1118.8 970.4 L1120.1 972.6 L1121.4 974.8 L1122.6 977.0 L1123.9 979.2 L1125.2 981.4 L1126.5 983.5 L1127.9 985.7 L1129.2 987.9 L1130.5 990.0 L1131.8 992.2 L1133.2 994.3 L1134.6 996.4 L1135.9 998.6 L1137.3 1000.7 L1138.7 1002.8 L1140.1 1004.9 L1141.5 1006.9 L1142.9 1009.0 L1144.4 1011.1 L1145.8 1013.1 L1147.3 1015.1 L1148.7 1017.1 L1150.2 1019.1 L1151.7 1021.1 L1153.2 1023.1 L1154.7 1025.0 L1156.3 1027.0 L1157.8 1028.9 L1159.4 1030.8 L1160.9 1032.7 L1162.5 1034.6 L1164.1 1036.4 L1165.7 1038.2 L1167.4 1040.1 L1169.0 1041.9 L1170.7 1043.6 L1172.4 1045.4 L1174.1 1047.1 L1175.8 1048.8 L1177.5 1050.5 L1179.3 1052.2 L1181.0 1053.9 L1182.8 1055.5 L1184.6 1057.1 L1186.5 1058.7 L1188.3 1060.2 L1190.2 1061.7 L1192.1 1063.2 L1194.0 1064.7 L1195.9 1066.1 L1197.8 1067.5 L1199.8 1068.9 L1201.8 1070.2 L1203.8 1071.7 L1205.8 1073.1 L1207.9 1074.4 L1209.9 1075.7 L1212.0 1077.0 L1214.2 1078.3 L1216.3 1079.5 L1218.5 1080.6 L1220.7 1081.8 L1222.9 1082.8 L1225.1 1083.9 L1227.4 1084.9 L1229.7 1085.8 L1232.0 1086.7 L1234.4 1087.5 L1236.8 1088.3 L1239.2 1089.1 L1241.6 1089.8 L1244.1 1090.5 L1246.5 1091.1 L1249.1 1091.6 L1251.6 1092.0 L1254.2 1092.0 L1256.8 1092.0 L1259.4 1092.0 L1262.1 1092.0 L1264.7 1092.0 L1267.5 1092.0 L1270.2 1092.0 L1647.0 1092.0" fill="none" stroke="#ff0000" stroke-width="7.7" stroke-linejoin="round" stroke-linecap="butt" stroke-dasharray="19 14.3"/>
<path d="M201.6 405.2 L859.8 406.2 L862.3 406.0 L864.8 405.9 L867.3 405.7 L869.8 405.6 L872.3 405.5 L874.8 405.5 L877.4 405.5 L879.9 405.5 L882.4 405.5 L885.0 405.6 L887.5 405.7 L890.0 405.8 L892.6 406.0 L895.1 406.2 L897.6 406.4 L900.1 406.6 L902.7 406.9 L905.2 407.2 L907.7 407.5 L910.2 407.9 L912.7 408.3 L915.2 408.7 L917.7 409.2 L920.2 409.7 L922.7 410.2 L925.2 410.7 L927.6 411.3 L930.1 411.9 L932.5 412.5 L935.0 413.2 L937.4 413.9 L939.8 414.6 L942.2 415.4 L944.6 416.1 L947.0 417.0 L949.3 417.8 L951.7 418.7 L954.0 419.6 L956.3 420.5 L958.6 421.5 L960.9 422.5 L963.2 423.5 L965.4 424.5 L967.7 425.6 L969.9 426.7 L972.1 427.9 L974.3 429.1 L976.4 430.3 L978.6 431.5 L980.7 432.8 L982.8 434.1 L984.8 435.4 L986.9 436.7 L988.9 438.1 L990.9 439.5 L992.9 441.0 L994.8 442.5 L996.7 444.0 L998.6 445.5 L1000.5 447.1 L1002.3 448.7 L1004.1 450.3 L1005.9 452.0 L1007.7 453.7 L1009.4 455.4 L1011.1 457.1 L1012.8 458.9 L1014.4 460.7 L1016.1 462.5 L1017.7 464.3 L1019.3 466.2 L1020.8 468.1 L1022.4 470.0 L1023.9 471.9 L1025.4 473.9 L1026.9 475.8 L1028.4 477.8 L1029.8 479.8 L1031.2 481.9 L1032.6 483.9 L1034.0 486.0 L1035.4 488.0 L1036.7 490.1 L1038.1 492.2 L1039.4 494.4 L1040.7 496.5 L1042.0 498.6 L1043.3 500.8 L1044.5 503.0 L1045.8 505.2 L1047.0 507.4 L1048.2 509.6 L1049.4 511.8 L1050.6 514.0 L1051.8 516.2 L1053.0 518.5 L1054.2 520.7 L1055.3 522.9 L1056.5 525.2 L1057.6 527.5 L1058.7 529.7 L1059.9 532.0 L1061.0 534.2 L1062.1 536.5 L1063.2 538.8 L1064.3 541.1 L1065.3 543.3 L1066.4 545.6 L1067.5 547.9 L1068.5 550.2 L1069.6 552.5 L1070.6 554.8 L1071.7 557.1 L1072.7 559.4 L1073.7 561.7 L1074.7 564.0 L1075.7 566.3 L1076.7 568.6 L1077.7 570.9 L1078.7 573.2 L1079.7 575.5 L1080.7 577.9 L1081.6 580.2 L1082.6 582.5 L1083.5 584.8 L1084.5 587.2 L1085.4 589.5 L1086.4 591.8 L1087.3 594.2 L1088.2 596.5 L1089.2 598.8 L1090.1 601.2 L1091.0 603.5 L1091.9 605.9 L1092.8 608.2 L1093.7 610.6 L1094.6 612.9 L1095.4 615.3 L1096.3 617.6 L1097.2 620.0 L1098.1 622.3 L1098.9 624.7 L1099.8 627.0 L1100.6 629.4 L1101.5 631.7 L1102.3 634.1 L1103.2 636.5 L1104.0 638.8 L1104.8 641.2 L1105.7 643.6 L1106.5 645.9 L1107.3 648.3 L1108.1 650.7 L1108.9 653.0 L1109.7 655.4 L1110.5 657.8 L1111.3 660.2 L1112.1 662.5 L1112.9 664.9 L1113.7 667.3 L1114.5 669.6 L1115.3 672.0 L1116.1 674.4 L1116.9 676.8 L1117.7 679.1 L1118.4 681.5 L1119.2 683.9 L1120.0 686.3 L1120.7 688.7 L1121.5 691.0 L1122.3 693.4 L1123.0 695.8 L1123.8 698.2 L1124.5 700.5 L1125.3 702.9 L1126.1 705.3 L1126.8 707.7 L1127.6 710.0 L1128.3 712.4 L1129.1 714.8 L1129.8 717.2 L1130.5 719.5 L1131.3 721.9 L1132.0 724.3 L1132.8 726.6 L1133.5 729.0 L1134.3 731.4 L1135.0 733.7 L1135.7 736.1 L1136.5 738.5 L1137.2 740.8 L1137.9 743.2 L1138.7 745.6 L1139.4 747.9 L1140.1 750.3 L1140.9 752.7 L1141.6 755.0 L1142.4 757.4 L1143.1 759.7 L1143.8 762.1 L1144.6 764.5 L1145.3 766.8 L1146.0 769.2 L1146.8 771.5 L1147.5 773.9 L1148.2 776.2 L1149.0 778.6 L1149.7 780.9 L1150.4 783.3 L1151.2 785.6 L1151.9 788.0 L1152.6 790.4 L1153.4 792.7 L1154.1 795.1 L1154.8 797.4 L1155.6 799.8 L1156.3 802.1 L1157.0 804.5 L1157.8 806.8 L1158.5 809.2 L1159.2 811.5 L1159.9 813.9 L1160.7 816.3 L1161.4 818.6 L1162.1 821.0 L1162.9 823.3 L1163.6 825.7 L1164.3 828.0 L1165.1 830.4 L1165.8 832.8 L1166.5 835.1 L1167.3 837.5 L1168.0 839.9 L1168.7 842.2 L1169.5 844.6 L1170.2 846.9 L1170.9 849.3 L1171.7 851.7 L1172.4 854.1 L1173.1 856.4 L1173.9 858.8 L1174.6 861.2 L1175.3 863.6 L1176.1 865.9 L1176.8 868.3 L1177.5 870.7 L1178.3 873.1 L1179.0 875.5 L1179.7 877.8 L1180.5 880.2 L1181.2 882.6 L1181.9 885.0 L1182.7 887.4 L1183.4 889.8 L1184.2 892.2 L1184.9 894.6 L1185.6 897.0 L1186.4 899.4 L1187.1 901.8 L1187.8 904.2 L1188.6 906.6 L1189.3 909.0 L1190.1 911.4 L1190.8 913.9 L1191.5 916.3 L1192.3 918.7 L1193.0 921.1 L1193.8 923.6 L1194.5 926.0 L1195.3 928.4 L1196.0 930.9 L1196.7 933.3 L1197.5 935.7 L1198.2 938.2 L1199.0 940.6 L1199.7 943.1 L1200.5 945.5 L1201.2 948.0 L1202.0 950.5 L1202.7 952.9 L1203.5 955.4 L1204.2 957.9 L1205.0 960.3 L1205.7 962.8 L1206.5 965.3 L1207.2 967.8 L1208.0 970.2 L1208.8 972.7 L1209.5 975.2 L1210.3 977.7 L1211.1 980.1 L1211.9 982.6 L1212.7 985.1 L1213.5 987.5 L1214.3 990.0 L1215.1 992.4 L1216.0 994.8 L1216.8 997.3 L1217.7 999.7 L1218.6 1002.1 L1219.5 1004.5 L1220.4 1006.8 L1221.3 1009.2 L1222.2 1011.6 L1223.2 1013.9 L1224.1 1016.2 L1225.1 1018.5 L1226.1 1020.8 L1227.1 1023.1 L1228.2 1025.4 L1229.2 1027.6 L1230.3 1029.8 L1231.4 1032.0 L1232.5 1034.2 L1233.7 1036.4 L1234.8 1038.5 L1236.0 1040.6 L1237.3 1042.7 L1238.5 1044.7 L1239.8 1046.8 L1241.1 1048.8 L1242.4 1050.8 L1243.8 1052.7 L1245.1 1054.6 L1246.6 1056.5 L1248.0 1058.4 L1249.5 1060.2 L1251.0 1062.0 L1252.5 1063.8 L1254.1 1065.6 L1255.7 1067.3 L1257.3 1068.9 L1259.0 1070.6 L1260.7 1072.4 L1262.5 1074.1 L1264.3 1075.7 L1266.1 1077.4 L1268.0 1078.9 L1269.9 1080.4 L1271.8 1081.9 L1273.8 1083.3 L1275.8 1084.6 L1277.9 1085.9 L1280.0 1087.1 L1282.2 1088.2 L1284.4 1089.2 L1286.7 1090.2 L1289.0 1091.1 L1291.4 1091.9 L1293.8 1092.0 L1296.3 1092.0 L1298.9 1092.0 L1301.4 1092.0 L1304.1 1092.0 L1306.8 1092.0 L1309.6 1092.0 L1647.0 1092.0" fill="none" stroke="#ff0000" stroke-width="7.7" stroke-linejoin="round" stroke-linecap="butt" stroke-dasharray="19 14.3"/>
<path d="M201.6 405.2 L899.9 405.7 L902.1 405.8 L904.3 405.9 L906.6 405.9 L908.9 406.0 L911.3 406.0 L913.6 406.0 L916.0 406.0 L918.4 406.0 L920.8 405.9 L923.3 405.9 L925.8 405.9 L928.2 405.9 L930.8 405.8 L933.3 405.8 L935.8 405.7 L938.4 405.7 L940.9 405.6 L943.5 405.6 L946.1 405.6 L948.7 405.6 L951.3 405.5 L954.0 405.5 L956.6 405.5 L959.2 405.5 L961.9 405.5 L964.5 405.6 L967.1 405.6 L969.8 405.7 L972.4 405.7 L975.1 405.8 L977.7 405.9 L980.3 406.1 L983.0 406.2 L985.6 406.4 L988.2 406.6 L990.8 406.8 L993.4 407.1 L996.0 407.4 L998.6 407.7 L1001.1 408.0 L1003.7 408.4 L1006.2 408.8 L1008.7 409.2 L1011.2 409.7 L1013.7 410.2 L1016.2 410.7 L1018.6 411.3 L1021.0 411.9 L1023.4 412.6 L1025.8 413.3 L1028.1 414.0 L1030.4 414.8 L1032.7 415.6 L1035.0 416.5 L1037.2 417.4 L1039.4 418.4 L1041.5 419.4 L1043.7 420.5 L1045.8 421.6 L1047.8 422.8 L1049.8 424.1 L1051.8 425.3 L1053.8 426.7 L1055.7 428.0 L1057.6 429.5 L1059.5 430.9 L1061.3 432.4 L1063.1 434.0 L1064.9 435.6 L1066.6 437.2 L1068.3 438.9 L1070.0 440.6 L1071.7 442.4 L1073.3 444.1 L1074.9 445.9 L1076.5 447.8 L1078.0 449.7 L1079.5 451.6 L1081.1 453.5 L1082.5 455.5 L1084.0 457.5 L1085.4 459.5 L1086.8 461.5 L1088.2 463.6 L1089.6 465.6 L1091.0 467.7 L1092.3 469.8 L1093.6 472.0 L1094.9 474.1 L1096.2 476.3 L1097.5 478.5 L1098.7 480.7 L1099.9 482.9 L1101.2 485.1 L1102.4 487.3 L1103.6 489.5 L1104.7 491.7 L1105.9 494.0 L1107.0 496.2 L1108.2 498.5 L1109.3 500.7 L1110.4 503.0 L1111.5 505.3 L1112.6 507.5 L1113.7 509.8 L1114.7 512.1 L1115.8 514.4 L1116.8 516.6 L1117.8 518.9 L1118.9 521.2 L1119.9 523.5 L1120.9 525.8 L1121.8 528.1 L1122.8 530.5 L1123.8 532.8 L1124.7 535.1 L1125.7 537.4 L1126.6 539.7 L1127.5 542.1 L1128.4 544.4 L1129.3 546.7 L1130.2 549.1 L1131.1 551.4 L1132.0 553.8 L1132.8 556.1 L1133.7 558.5 L1134.5 560.9 L1135.4 563.2 L1136.2 565.6 L1137.0 568.0 L1137.8 570.3 L1138.6 572.7 L1139.4 575.1 L1140.2 577.5 L1141.0 579.8 L1141.8 582.2 L1142.5 584.6 L1143.3 587.0 L1144.0 589.4 L1144.8 591.8 L1145.5 594.2 L1146.3 596.6 L1147.0 599.0 L1147.7 601.4 L1148.4 603.8 L1149.1 606.2 L1149.8 608.6 L1150.5 611.0 L1151.2 613.4 L1151.9 615.9 L1152.6 618.3 L1153.2 620.7 L1153.9 623.1 L1154.6 625.5 L1155.2 628.0 L1155.9 630.4 L1156.5 632.8 L1157.2 635.2 L1157.8 637.7 L1158.5 640.1 L1159.1 642.5 L1159.7 644.9 L1160.4 647.4 L1161.0 649.8 L1161.6 652.2 L1162.2 654.7 L1162.8 657.1 L1163.4 659.5 L1164.1 662.0 L1164.7 664.4 L1165.3 666.8 L1165.9 669.3 L1166.5 671.7 L1167.1 674.1 L1167.7 676.6 L1168.3 679.0 L1168.9 681.4 L1169.4 683.9 L1170.0 686.3 L1170.6 688.7 L1171.2 691.2 L1171.8 693.6 L1172.4 696.0 L1173.0 698.5 L1173.6 700.9 L1174.2 703.3 L1174.7 705.7 L1175.3 708.2 L1175.9 710.6 L1176.5 713.0 L1177.1 715.4 L1177.7 717.9 L1178.3 720.3 L1178.9 722.7 L1179.5 725.1 L1180.0 727.5 L1180.6 730.0 L1181.2 732.4 L1181.8 734.8 L1182.4 737.2 L1183.0 739.6 L1183.6 742.0 L1184.2 744.4 L1184.8 746.9 L1185.4 749.3 L1186.0 751.7 L1186.6 754.1 L1187.1 756.5 L1187.7 758.9 L1188.3 761.3 L1188.9 763.7 L1189.5 766.1 L1190.1 768.6 L1190.7 771.0 L1191.3 773.4 L1191.9 775.8 L1192.5 778.2 L1193.1 780.6 L1193.7 783.0 L1194.2 785.4 L1194.8 787.8 L1195.4 790.2 L1196.0 792.6 L1196.6 795.1 L1197.2 797.5 L1197.8 799.9 L1198.4 802.3 L1199.0 804.7 L1199.5 807.1 L1200.1 809.5 L1200.7 811.9 L1201.3 814.3 L1201.9 816.8 L1202.5 819.2 L1203.1 821.6 L1203.6 824.0 L1204.2 826.4 L1204.8 828.8 L1205.4 831.2 L1206.0 833.7 L1206.6 836.1 L1207.1 838.5 L1207.7 840.9 L1208.3 843.3 L1208.9 845.7 L1209.5 848.2 L1210.0 850.6 L1210.6 853.0 L1211.2 855.4 L1211.8 857.9 L1212.3 860.3 L1212.9 862.7 L1213.5 865.2 L1214.0 867.6 L1214.6 870.0 L1215.2 872.4 L1215.8 874.9 L1216.3 877.3 L1216.9 879.8 L1217.5 882.2 L1218.0 884.6 L1218.6 887.1 L1219.2 889.5 L1219.7 892.0 L1220.3 894.4 L1220.8 896.9 L1221.4 899.3 L1221.9 901.8 L1222.5 904.2 L1223.1 906.7 L1223.6 909.1 L1224.2 911.6 L1224.7 914.0 L1225.3 916.5 L1225.8 919.0 L1226.4 921.4 L1226.9 923.9 L1227.5 926.4 L1228.0 928.8 L1228.5 931.3 L1229.1 933.8 L1229.6 936.3 L1230.2 938.7 L1230.7 941.2 L1231.3 943.7 L1231.8 946.2 L1232.4 948.6 L1232.9 951.1 L1233.5 953.6 L1234.0 956.1 L1234.6 958.5 L1235.2 961.0 L1235.7 963.5 L1236.3 965.9 L1236.9 968.4 L1237.5 970.8 L1238.1 973.3 L1238.7 975.8 L1239.4 978.2 L1240.0 980.6 L1240.6 983.1 L1241.3 985.5 L1241.9 987.9 L1242.6 990.4 L1243.3 992.8 L1244.0 995.2 L1244.7 997.6 L1245.4 1000.0 L1246.1 1002.4 L1246.8 1004.7 L1247.6 1007.1 L1248.4 1009.5 L1249.2 1011.8 L1250.0 1014.2 L1250.8 1016.5 L1251.6 1018.8 L1252.5 1021.2 L1253.3 1023.5 L1254.2 1025.8 L1255.1 1028.1 L1256.0 1030.3 L1257.0 1032.6 L1257.9 1034.9 L1258.9 1037.1 L1259.9 1039.3 L1260.9 1041.5 L1262.0 1043.8 L1263.1 1045.9 L1264.1 1048.1 L1265.3 1050.3 L1266.4 1052.4 L1267.6 1054.6 L1268.7 1056.7 L1269.9 1058.8 L1271.2 1060.9 L1272.4 1063.0 L1273.7 1065.0 L1275.0 1067.1 L1276.4 1069.1 L1277.8 1071.2 L1279.1 1073.4 L1280.6 1075.6 L1282.0 1077.7 L1283.5 1079.9 L1285.0 1082.0 L1286.6 1084.1 L1288.1 1086.2 L1289.8 1088.2 L1291.4 1090.2 L1293.1 1092.0 L1294.8 1092.0 L1647.0 1092.0" fill="none" stroke="#ff0000" stroke-width="7.7" stroke-linejoin="round" stroke-linecap="butt" stroke-dasharray="19 14.3"/>
<path d="M204.0 663.2 L599.3 664.7 L601.8 664.7 L604.4 664.7 L606.9 664.8 L609.4 664.8 L611.9 664.8 L614.5 664.9 L617.0 665.0 L619.5 665.1 L622.0 665.1 L624.6 665.2 L627.1 665.4 L629.6 665.5 L632.1 665.6 L634.7 665.8 L637.2 666.0 L639.7 666.1 L642.2 666.3 L644.7 666.5 L647.3 666.7 L649.8 667.0 L652.3 667.2 L654.8 667.4 L657.3 667.7 L659.8 668.0 L662.3 668.3 L664.8 668.6 L667.3 668.9 L669.9 669.2 L672.4 669.5 L674.8 669.9 L677.3 670.2 L679.8 670.6 L682.3 671.0 L684.8 671.4 L687.3 671.8 L689.8 672.2 L692.3 672.6 L694.7 673.1 L697.2 673.5 L699.7 674.0 L702.2 674.5 L704.6 675.0 L707.1 675.5 L709.5 676.0 L712.0 676.5 L714.4 677.1 L716.9 677.6 L719.3 678.2 L721.8 678.8 L724.2 679.4 L726.6 680.0 L729.1 680.6 L731.5 681.2 L733.9 681.9 L736.3 682.5 L738.7 683.2 L741.1 683.9 L743.5 684.6 L745.9 685.3 L748.3 686.0 L750.7 686.8 L753.1 687.5 L755.5 688.3 L757.8 689.1 L760.2 689.8 L762.5 690.6 L764.9 691.5 L767.2 692.3 L769.6 693.1 L771.9 694.0 L774.2 694.9 L776.6 695.7 L778.9 696.6 L781.2 697.5 L783.5 698.5 L785.8 699.4 L788.1 700.3 L790.4 701.3 L792.6 702.3 L794.9 703.3 L797.2 704.3 L799.4 705.3 L801.7 706.3 L803.9 707.4 L806.2 708.4 L808.4 709.5 L810.6 710.6 L812.8 711.7 L815.0 712.8 L817.2 713.9 L819.4 715.0 L821.6 716.2 L823.8 717.3 L826.0 718.5 L828.1 719.7 L830.3 720.9 L832.4 722.1 L834.6 723.3 L836.7 724.6 L838.8 725.8 L841.0 727.1 L843.1 728.3 L845.2 729.6 L847.3 730.9 L849.4 732.2 L851.5 733.6 L853.5 734.9 L855.6 736.2 L857.7 737.6 L859.7 739.0 L861.8 740.3 L863.8 741.7 L865.9 743.1 L867.9 744.5 L869.9 745.9 L871.9 747.4 L874.0 748.8 L876.0 750.3 L878.0 751.7 L879.9 753.2 L881.9 754.7 L883.9 756.2 L885.9 757.7 L887.8 759.2 L889.8 760.7 L891.8 762.2 L893.7 763.8 L895.6 765.3 L897.6 766.9 L899.5 768.5 L901.4 770.0 L903.3 771.6 L905.2 773.2 L907.1 774.8 L909.0 776.5 L910.9 778.1 L912.8 779.7 L914.7 781.4 L916.5 783.0 L918.4 784.7 L920.2 786.3 L922.1 788.0 L923.9 789.7 L925.8 791.4 L927.6 793.1 L929.4 794.8 L931.2 796.5 L933.0 798.2 L934.9 800.0 L936.7 801.7 L938.4 803.4 L940.2 805.2 L942.0 806.9 L943.8 808.7 L945.6 810.5 L947.3 812.3 L949.1 814.1 L950.8 815.8 L952.6 817.6 L954.3 819.5 L956.0 821.3 L957.8 823.1 L959.5 824.9 L961.2 826.7 L962.9 828.6 L964.6 830.4 L966.3 832.3 L968.0 834.1 L969.7 836.0 L971.3 837.9 L973.0 839.7 L974.7 841.6 L976.3 843.5 L978.0 845.4 L979.7 847.3 L981.3 849.2 L982.9 851.1 L984.6 853.0 L986.2 854.9 L987.8 856.8 L989.5 858.7 L991.1 860.6 L992.7 862.6 L994.3 864.5 L995.9 866.4 L997.5 868.4 L999.1 870.3 L1000.7 872.2 L1002.3 874.2 L1003.9 876.1 L1005.5 878.1 L1007.1 880.0 L1008.7 882.0 L1010.3 883.9 L1011.9 885.9 L1013.4 887.9 L1015.0 889.8 L1016.6 891.8 L1018.2 893.8 L1019.7 895.7 L1021.3 897.7 L1022.9 899.7 L1024.4 901.6 L1026.0 903.6 L1027.6 905.6 L1029.1 907.6 L1030.7 909.5 L1032.2 911.5 L1033.8 913.5 L1035.4 915.5 L1036.9 917.4 L1038.5 919.4 L1040.1 921.4 L1041.6 923.4 L1043.2 925.3 L1044.7 927.3 L1046.3 929.3 L1047.9 931.2 L1049.4 933.2 L1051.0 935.2 L1052.5 937.1 L1054.1 939.1 L1055.7 941.1 L1057.2 943.0 L1058.8 945.0 L1060.4 946.9 L1062.0 948.9 L1063.5 950.8 L1065.1 952.8 L1066.7 954.7 L1068.3 956.7 L1069.9 958.6 L1071.4 960.6 L1073.0 962.5 L1074.6 964.4 L1076.2 966.3 L1077.8 968.3 L1079.4 970.2 L1081.0 972.1 L1082.6 974.0 L1084.3 975.9 L1085.9 977.8 L1087.5 979.7 L1089.1 981.6 L1090.7 983.5 L1092.4 985.4 L1094.0 987.3 L1095.6 989.1 L1097.3 991.0 L1098.9 992.9 L1100.6 994.7 L1102.3 996.6 L1103.9 998.4 L1105.6 1000.3 L1107.3 1002.1 L1109.0 1003.9 L1110.6 1005.7 L1112.3 1007.5 L1114.0 1009.3 L1115.8 1011.1 L1117.5 1012.9 L1119.2 1014.7 L1120.9 1016.5 L1122.7 1018.2 L1124.4 1020.0 L1126.2 1021.7 L1127.9 1023.4 L1129.7 1025.2 L1131.5 1026.9 L1133.2 1028.6 L1135.0 1030.2 L1136.8 1031.9 L1138.7 1033.6 L1140.5 1035.2 L1142.3 1036.9 L1144.2 1038.5 L1146.0 1040.1 L1147.9 1041.7 L1149.7 1043.3 L1151.6 1044.8 L1153.5 1046.4 L1155.4 1047.9 L1157.3 1049.5 L1159.2 1051.0 L1161.2 1052.5 L1163.1 1054.0 L1165.1 1055.4 L1167.1 1056.9 L1169.0 1058.3 L1171.0 1059.7 L1173.0 1061.1 L1175.1 1062.5 L1177.1 1063.9 L1179.1 1065.2 L1181.2 1066.6 L1183.3 1067.9 L1185.3 1069.2 L1187.4 1070.5 L1189.6 1071.8 L1191.7 1073.1 L1193.8 1074.5 L1196.0 1075.7 L1198.2 1077.0 L1200.3 1078.3 L1202.5 1079.5 L1204.7 1080.7 L1207.0 1081.9 L1209.2 1083.0 L1211.5 1084.1 L1213.8 1085.2 L1216.1 1086.3 L1218.4 1087.4 L1220.7 1088.4 L1223.0 1089.4 L1225.4 1090.4 L1227.8 1091.4 L1230.2 1092.0 L1232.6 1092.0 L1235.0 1092.0 L1237.4 1092.0 L1647.0 1092.0" fill="none" stroke="#0000ff" stroke-width="8" stroke-linejoin="round" stroke-linecap="round" stroke-dasharray="0 14.75"/>
<path d="M204.0 663.5 L908.3 664.6 L911.1 664.5 L913.9 664.5 L916.6 664.5 L919.3 664.6 L922.0 664.7 L924.7 664.8 L927.4 665.0 L930.1 665.2 L932.7 665.5 L935.3 665.8 L937.9 666.1 L940.5 666.5 L943.1 666.9 L945.6 667.3 L948.1 667.8 L950.7 668.3 L953.1 668.8 L955.6 669.4 L958.1 670.0 L960.5 670.6 L962.9 671.3 L965.3 672.0 L967.7 672.7 L970.1 673.5 L972.5 674.3 L974.8 675.2 L977.1 676.0 L979.4 676.9 L981.7 677.8 L984.0 678.8 L986.2 679.8 L988.4 680.8 L990.7 681.8 L992.9 682.9 L995.1 684.0 L997.2 685.1 L999.4 686.3 L1001.5 687.4 L1003.6 688.7 L1005.7 689.9 L1007.8 691.1 L1009.9 692.4 L1012.0 693.7 L1014.0 695.1 L1016.0 696.4 L1018.0 697.8 L1020.0 699.2 L1022.0 700.6 L1024.0 702.1 L1025.9 703.5 L1027.9 705.0 L1029.8 706.6 L1031.7 708.1 L1033.6 709.6 L1035.4 711.2 L1037.3 712.8 L1039.1 714.4 L1041.0 716.1 L1042.8 717.7 L1044.6 719.4 L1046.4 721.1 L1048.2 722.8 L1049.9 724.5 L1051.7 726.3 L1053.4 728.1 L1055.1 729.8 L1056.8 731.6 L1058.5 733.4 L1060.2 735.3 L1061.8 737.1 L1063.5 739.0 L1065.1 740.8 L1066.7 742.7 L1068.4 744.6 L1070.0 746.5 L1071.5 748.5 L1073.1 750.4 L1074.7 752.4 L1076.2 754.3 L1077.7 756.3 L1079.3 758.3 L1080.8 760.3 L1082.3 762.3 L1083.7 764.3 L1085.2 766.3 L1086.7 768.4 L1088.1 770.4 L1089.5 772.5 L1091.0 774.5 L1092.4 776.6 L1093.8 778.7 L1095.1 780.7 L1096.5 782.8 L1097.9 784.9 L1099.2 787.0 L1100.6 789.1 L1101.9 791.3 L1103.2 793.4 L1104.5 795.5 L1105.8 797.7 L1107.1 799.8 L1108.4 801.9 L1109.6 804.1 L1110.9 806.3 L1112.2 808.4 L1113.4 810.6 L1114.6 812.8 L1115.8 815.0 L1117.1 817.1 L1118.3 819.3 L1119.5 821.5 L1120.6 823.7 L1121.8 825.9 L1123.0 828.1 L1124.2 830.4 L1125.3 832.6 L1126.5 834.8 L1127.6 837.0 L1128.7 839.3 L1129.9 841.5 L1131.0 843.7 L1132.1 846.0 L1133.2 848.2 L1134.3 850.5 L1135.4 852.7 L1136.5 855.0 L1137.6 857.3 L1138.7 859.5 L1139.8 861.8 L1140.9 864.1 L1141.9 866.3 L1143.0 868.6 L1144.1 870.9 L1145.1 873.2 L1146.2 875.4 L1147.2 877.7 L1148.3 880.0 L1149.3 882.3 L1150.3 884.6 L1151.4 886.9 L1152.4 889.2 L1153.5 891.4 L1154.5 893.7 L1155.5 896.0 L1156.5 898.3 L1157.6 900.6 L1158.6 902.9 L1159.6 905.2 L1160.6 907.5 L1161.7 909.8 L1162.7 912.1 L1163.7 914.4 L1164.7 916.7 L1165.7 919.0 L1166.8 921.3 L1167.8 923.6 L1168.8 925.9 L1169.8 928.2 L1170.8 930.5 L1171.9 932.8 L1172.9 935.1 L1173.9 937.4 L1174.9 939.7 L1176.0 942.0 L1177.0 944.3 L1178.0 946.6 L1179.1 948.9 L1180.1 951.2 L1181.1 953.5 L1182.2 955.7 L1183.2 958.0 L1184.3 960.3 L1185.3 962.6 L1186.4 964.9 L1187.4 967.1 L1188.5 969.4 L1189.6 971.7 L1190.6 973.9 L1191.7 976.2 L1192.8 978.4 L1193.9 980.7 L1195.0 982.9 L1196.1 985.2 L1197.2 987.4 L1198.3 989.6 L1199.5 991.9 L1200.6 994.1 L1201.8 996.3 L1202.9 998.5 L1204.1 1000.7 L1205.3 1002.8 L1206.5 1005.0 L1207.7 1007.2 L1208.9 1009.3 L1210.1 1011.5 L1211.3 1013.6 L1212.6 1015.7 L1213.8 1017.9 L1215.1 1020.0 L1216.4 1022.0 L1217.7 1024.1 L1219.0 1026.2 L1220.4 1028.2 L1221.7 1030.3 L1223.1 1032.3 L1224.5 1034.3 L1225.9 1036.3 L1227.3 1038.3 L1228.7 1040.3 L1230.2 1042.2 L1231.7 1044.2 L1233.1 1046.1 L1234.7 1048.0 L1236.2 1049.9 L1237.7 1051.8 L1239.3 1053.7 L1240.9 1055.5 L1242.5 1057.3 L1244.1 1059.1 L1245.8 1060.9 L1247.5 1062.7 L1249.1 1064.5 L1250.9 1066.2 L1252.6 1067.9 L1254.4 1069.6 L1256.2 1071.4 L1258.0 1073.2 L1259.8 1074.9 L1261.7 1076.6 L1263.6 1078.3 L1265.5 1080.0 L1267.5 1081.7 L1269.4 1083.3 L1271.4 1084.9 L1273.4 1086.5 L1275.5 1088.1 L1277.6 1089.6 L1279.7 1091.1 L1281.8 1092.0 L1284.0 1092.0 L1647.0 1092.0" fill="none" stroke="#0000ff" stroke-width="8" stroke-linejoin="round" stroke-linecap="round" stroke-dasharray="0 14.75"/>
<path d="M204.0 663.5 L1000.2 664.3 L1003.2 664.2 L1006.1 664.1 L1009.0 664.1 L1011.8 664.1 L1014.7 664.2 L1017.5 664.3 L1020.2 664.5 L1022.9 664.8 L1025.6 665.1 L1028.3 665.4 L1030.9 665.8 L1033.5 666.2 L1036.1 666.7 L1038.6 667.2 L1041.2 667.8 L1043.6 668.4 L1046.1 669.1 L1048.5 669.8 L1050.9 670.6 L1053.3 671.4 L1055.6 672.2 L1057.9 673.1 L1060.2 674.0 L1062.4 675.0 L1064.7 676.0 L1066.8 677.0 L1069.0 678.1 L1071.2 679.3 L1073.3 680.4 L1075.4 681.6 L1077.4 682.9 L1079.5 684.1 L1081.5 685.4 L1083.5 686.8 L1085.4 688.2 L1087.4 689.6 L1089.3 691.0 L1091.2 692.5 L1093.0 694.0 L1094.9 695.5 L1096.7 697.1 L1098.5 698.7 L1100.3 700.3 L1102.1 702.0 L1103.8 703.7 L1105.5 705.4 L1107.2 707.1 L1108.9 708.9 L1110.5 710.7 L1112.1 712.5 L1113.8 714.3 L1115.4 716.2 L1116.9 718.1 L1118.5 720.0 L1120.0 721.9 L1121.5 723.9 L1123.0 725.9 L1124.5 727.8 L1126.0 729.9 L1127.4 731.9 L1128.9 733.9 L1130.3 736.0 L1131.7 738.1 L1133.0 740.2 L1134.4 742.3 L1135.8 744.4 L1137.1 746.6 L1138.4 748.7 L1139.7 750.9 L1141.0 753.1 L1142.3 755.3 L1143.5 757.5 L1144.8 759.7 L1146.0 762.0 L1147.3 764.2 L1148.5 766.4 L1149.7 768.7 L1150.8 771.0 L1152.0 773.2 L1153.2 775.5 L1154.3 777.8 L1155.5 780.1 L1156.6 782.4 L1157.7 784.7 L1158.8 787.0 L1159.9 789.3 L1161.0 791.6 L1162.1 793.9 L1163.2 796.2 L1164.3 798.5 L1165.3 800.8 L1166.4 803.1 L1167.4 805.4 L1168.4 807.7 L1169.5 810.0 L1170.5 812.3 L1171.5 814.6 L1172.5 816.9 L1173.5 819.2 L1174.5 821.5 L1175.5 823.8 L1176.5 826.1 L1177.5 828.4 L1178.4 830.7 L1179.4 833.0 L1180.3 835.3 L1181.3 837.5 L1182.2 839.8 L1183.2 842.1 L1184.1 844.4 L1185.0 846.7 L1186.0 849.0 L1186.9 851.3 L1187.8 853.5 L1188.7 855.8 L1189.6 858.1 L1190.5 860.4 L1191.4 862.7 L1192.3 865.0 L1193.2 867.3 L1194.1 869.6 L1195.0 871.9 L1195.9 874.2 L1196.7 876.5 L1197.6 878.8 L1198.5 881.1 L1199.3 883.4 L1200.2 885.7 L1201.0 888.0 L1201.9 890.3 L1202.8 892.6 L1203.6 894.9 L1204.5 897.2 L1205.3 899.6 L1206.1 901.9 L1207.0 904.2 L1207.8 906.5 L1208.7 908.9 L1209.5 911.2 L1210.3 913.6 L1211.2 915.9 L1212.0 918.3 L1212.8 920.6 L1213.6 923.0 L1214.5 925.3 L1215.3 927.7 L1216.1 930.1 L1217.0 932.4 L1217.8 934.8 L1218.6 937.2 L1219.4 939.6 L1220.3 941.9 L1221.1 944.3 L1221.9 946.7 L1222.8 949.1 L1223.6 951.5 L1224.5 953.8 L1225.3 956.2 L1226.2 958.6 L1227.0 961.0 L1227.9 963.4 L1228.7 965.7 L1229.6 968.1 L1230.5 970.5 L1231.3 972.9 L1232.2 975.3 L1233.1 977.6 L1234.0 980.0 L1234.9 982.4 L1235.8 984.8 L1236.7 987.1 L1237.6 989.5 L1238.5 991.9 L1239.4 994.2 L1240.4 996.6 L1241.3 998.9 L1242.2 1001.3 L1243.2 1003.6 L1244.2 1006.0 L1245.1 1008.3 L1246.1 1010.6 L1247.1 1013.0 L1248.1 1015.3 L1249.1 1017.6 L1250.1 1019.9 L1251.1 1022.2 L1252.2 1024.5 L1253.2 1026.8 L1254.3 1029.1 L1255.4 1031.4 L1256.5 1033.6 L1257.6 1035.9 L1258.7 1038.1 L1259.9 1040.3 L1261.0 1042.5 L1262.2 1044.6 L1263.4 1046.8 L1264.7 1048.9 L1265.9 1051.0 L1267.2 1053.0 L1268.6 1055.1 L1269.9 1057.1 L1271.3 1059.1 L1272.7 1061.0 L1274.1 1062.9 L1275.6 1064.8 L1277.1 1066.6 L1278.6 1068.4 L1280.2 1070.2 L1281.8 1072.0 L1283.5 1073.8 L1285.2 1075.5 L1286.9 1077.2 L1288.7 1078.9 L1290.5 1080.4 L1292.4 1082.0 L1294.3 1083.4 L1296.2 1084.8 L1298.2 1086.2 L1300.3 1087.5 L1302.4 1088.7 L1304.5 1089.9 L1306.7 1091.0 L1309.0 1092.0 L1311.3 1092.0 L1313.7 1092.0 L1316.1 1092.0 L1318.6 1092.0 L1647.0 1092.0" fill="none" stroke="#0000ff" stroke-width="8" stroke-linejoin="round" stroke-linecap="round" stroke-dasharray="0 14.75"/>
</g>
<line x1="674.3" y1="169.5" x2="674.3" y2="221.0" stroke="#000" stroke-width="5"/><polygon points="666.0,219.0 682.6,219.0 682.6,229.0 674.3,252.0 666.0,229.0" fill="#000"/>
<line x1="931.6" y1="165.0" x2="931.6" y2="217.7" stroke="#000" stroke-width="5"/><polygon points="923.3,215.7 939.9,215.7 939.9,225.7 931.6,245.5 923.3,225.7" fill="#000"/>
<line x1="1037.4" y1="168.0" x2="1037.4" y2="220.8" stroke="#000" stroke-width="5"/><polygon points="1029.1,218.8 1045.7,218.8 1045.7,228.8 1037.4,248.5 1029.1,228.8" fill="#000"/>
<g fill="#000" font-family="'Liberation Serif', 'Times New Roman', serif"><text x="167" y="1111.5" font-size="63.5" text-anchor="end" letter-spacing="1">0</text>
<text x="167" y="939.3" font-size="63.5" text-anchor="end" letter-spacing="1">2</text>
<text x="167" y="767.2" font-size="63.5" text-anchor="end" letter-spacing="1">4</text>
<text x="167" y="595.0" font-size="63.5" text-anchor="end" letter-spacing="1">6</text>
<text x="167" y="422.8" font-size="63.5" text-anchor="end" letter-spacing="1">8</text>
<text x="169" y="250.7" font-size="63.5" text-anchor="end" letter-spacing="1">10</text>
<text x="169" y="78.5" font-size="63.5" text-anchor="end" letter-spacing="1">12</text>
<text x="202.5" y="1175" font-size="63.5" text-anchor="middle">0</text>
<text x="563.2" y="1175" font-size="63.5" text-anchor="middle">1</text>
<text x="924.0" y="1175" font-size="63.5" text-anchor="middle">2</text>
<text x="1284.8" y="1175" font-size="63.5" text-anchor="middle">3</text>
<text x="1645.5" y="1175" font-size="63.5" text-anchor="middle">4</text>
<text x="731" y="1230" font-size="61" letter-spacing="1.9">Distance (mm)</text>
<text transform="translate(88.8,906.5) rotate(-90)" font-size="62" letter-spacing="0.5">Mole fraction</text>
<text transform="translate(88.8,549.4) rotate(-90)" font-size="62">N</text>
<text transform="translate(88.8,501.2) rotate(-90)" font-size="62">C</text>
<text transform="translate(112.0,459.3) rotate(-90)" font-size="37">7</text>
<text transform="translate(88.8,440.4) rotate(-90)" font-size="62">H</text>
<text transform="translate(112.0,391.2) rotate(-90)" font-size="37">16</text>
<text transform="translate(88.8,340.7) rotate(-90)" font-size="52">(</text>
<text transform="translate(88.8,321.8) rotate(-90)" font-size="62">10</text>
<text transform="translate(57.1,259.9) rotate(-90)" font-size="37">-2</text>
<text transform="translate(88.8,227.4) rotate(-90)" font-size="52">)</text>
<text x="617.6" y="158" font-size="57" letter-spacing="0.35">1atm</text>
<text x="871" y="156" font-size="57" letter-spacing="1.5">3atm</text>
<text x="1001" y="161.5" font-size="57" letter-spacing="1.5">5atm</text>
<line x1="1151.5" y1="110.5" x2="1280.5" y2="110.5" stroke="#000" stroke-width="6.5"/>
<line x1="1149.5" y1="198" x2="1275" y2="198" stroke="#ff0000" stroke-width="7.5" stroke-dasharray="20.5 13.3"/>
<line x1="1154.3" y1="288" x2="1275" y2="288" stroke="#0000ff" stroke-width="8" stroke-dasharray="0 14.85" stroke-linecap="round"/>
<text x="1321.7" y="128.4" font-size="61">0% C<tspan font-size="34" dy="18.5">4</tspan><tspan dy="-18.5">H</tspan><tspan font-size="34" dy="18.5">9</tspan><tspan dy="-18.5">OH</tspan></text>
<text x="1291.4" y="216.0" font-size="61">20% C<tspan font-size="34" dy="18.5">4</tspan><tspan dy="-18.5">H</tspan><tspan font-size="34" dy="18.5">9</tspan><tspan dy="-18.5">OH</tspan></text>
<text x="1291.9" y="305.8" font-size="61">50% C<tspan font-size="34" dy="18.5">4</tspan><tspan dy="-18.5">H</tspan><tspan font-size="34" dy="18.5">9</tspan><tspan dy="-18.5">OH</tspan></text></g></svg>
</body></html>
